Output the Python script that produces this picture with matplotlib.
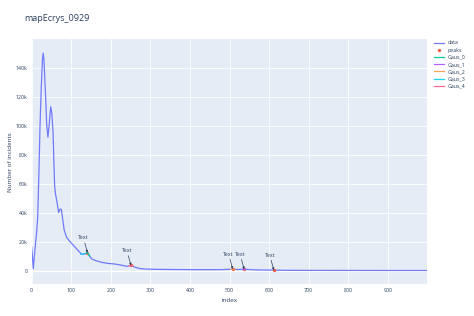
import matplotlib
matplotlib.use("Agg")
import matplotlib.pyplot as plt
from matplotlib.ticker import FuncFormatter

# data
index = [0, 4, 8, 12, 15, 18, 21, 24, 27, 29, 31, 33, 35, 38, 41, 44, 48, 51, 54,
         56, 58, 60, 64, 68, 72, 75, 78, 82, 88, 95, 105, 115, 125, 130, 135, 141,
         146, 152, 160, 175, 190, 210, 225, 240, 251, 262, 275, 290, 320, 360, 420,
         480, 508, 522, 537, 560, 590, 612, 640, 700, 800, 900, 999]
incidents = [16000, 1200, 14000, 25000, 36000, 65000, 100000, 125000, 145000, 150000,
             145000, 133000, 121000, 100000, 92000, 100000, 113000, 108000, 95000,
             75000, 58000, 53000, 47000, 40000, 42500, 42000, 36000, 28000, 23000,
             20500, 17500, 14500, 11500, 11200, 11600, 12300, 10000, 8000, 7000,
             5800, 5000, 4500, 3800, 2900, 3500, 2200, 1300, 1000, 800, 700, 600,
             600, 1000, 700, 900, 500, 350, 300, 150, 100, 60, 40, 30]

peak_x = [141, 251, 508, 537, 612]
peak_y = [12300, 3500, 1000, 900, 300]

gaus_x = [[138, 141, 147], [533, 537, 541], [504, 508, 513], [124, 128, 133], [246, 251, 256]]
gaus_y = [[12000, 12300, 10000], [700, 900, 700], [800, 1000, 800], [11300, 11600, 11300], [3300, 3500, 3300]]
gaus_names = ["Gaus_0", "Gaus_1", "Gaus_2", "Gaus_3", "Gaus_4"]
gaus_colors = ["#00cc96", "#ab63fa", "#FFA15A", "#19d3f3", "#FF6692"]

txt = "#2a3f5f"
plt.rcParams["font.family"] = ["Open Sans", "DejaVu Sans"]

fig = plt.figure(figsize=(4.74, 3.16), dpi=100)
ax = fig.add_axes([0.0669, 0.1003, 0.8339, 0.7753])
ax.set_facecolor("#E5ECF6")

ax.plot(index, incidents, color="#636efa", lw=0.9, alpha=0.9, label="data")
ax.plot(peak_x, peak_y, ls="none", marker="o", ms=1.3, color="#EF553B", label="peaks")
for gx, gy, name, c in zip(gaus_x, gaus_y, gaus_names, gaus_colors):
    ax.plot(gx, gy, color=c, lw=0.9, label=name)

for px, py in zip(peak_x, peak_y):
    ax.annotate("Text", xy=(px, py), xytext=(-3, 9), textcoords="offset points",
                fontsize=3.8, color=txt, ha="center", va="bottom",
                arrowprops=dict(arrowstyle="-|>", lw=0.5, color=txt,
                                mutation_scale=3, shrinkA=0, shrinkB=0))

ax.set_xlim(0, 999)
ax.set_ylim(-9500, 159500)
ax.set_xticks(range(0, 1000, 100))
ax.set_yticks(range(0, 140001, 20000))
ax.yaxis.set_major_formatter(FuncFormatter(lambda v, p: "0" if v == 0 else f"{int(v / 1000)}k"))
ax.grid(color="white", lw=0.6)
ax.axhline(0, color="white", lw=1.0, zorder=1)
ax.set_axisbelow(True)
for s in ax.spines.values():
    s.set_visible(False)
ax.tick_params(length=0, labelsize=3.8, labelcolor=txt, pad=3)

ax.set_xlabel("index", fontsize=4.5, color=txt, labelpad=3)
ax.set_ylabel("Number of incidents", fontsize=4.5, color=txt, labelpad=2)
fig.text(0.051, 0.935, "mapEcrys_0929", fontsize=6.5, color=txt)

ax.legend(loc="upper left", bbox_to_anchor=(1.005, 1.015), frameon=False,
          fontsize=3.8, handlelength=2.0, handletextpad=0.7, labelspacing=0.42,
          labelcolor=txt)

fig.savefig("out.png", dpi=100)
